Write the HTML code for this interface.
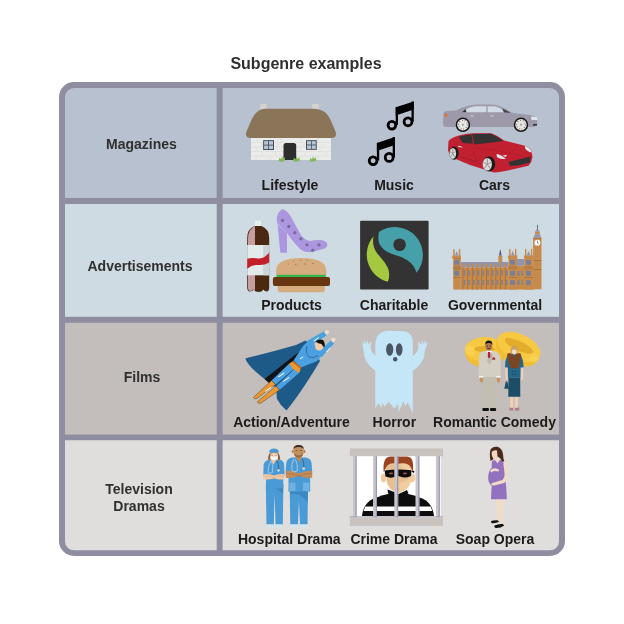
<!DOCTYPE html>
<html><head><meta charset="utf-8">
<style>
html,body{margin:0;padding:0;background:#fff;width:624px;height:624px;overflow:hidden}
svg{display:block;will-change:transform}
text{font-family:"Liberation Sans",sans-serif;font-weight:bold}
.t{fill:#303030;font-size:14px}
.l{fill:#1c1a1a;font-size:14px}
</style></head><body>
<svg width="624" height="624" viewBox="0 0 624 624">
<!-- frame -->
<rect x="59" y="82" width="506" height="474" rx="15" ry="15" fill="#8f8da0"/>
<path d="M65 97 A9 9 0 0 1 74 88 L216.7 88 L216.7 198 L65 198 Z" fill="#b8c1cf"/>
<path d="M222.6 88 L550 88 A9 9 0 0 1 559 97 L559 198 L222.6 198 Z" fill="#b8c1cf"/>
<rect x="65" y="204" width="151.7" height="112.8" fill="#cfdbe3"/>
<rect x="222.6" y="204" width="336.4" height="112.8" fill="#cfdbe3"/>
<rect x="65" y="322.8" width="151.7" height="111.8" fill="#c3bebb"/>
<rect x="222.6" y="322.8" width="336.4" height="111.8" fill="#c3bebb"/>
<path d="M65 440.2 L216.7 440.2 L216.7 550.3 L74 550.3 A9 9 0 0 1 65 541.3 Z" fill="#dfdedc"/>
<path d="M222.6 440.2 L559 440.2 L559 541.3 A9 9 0 0 1 550 550.3 L222.6 550.3 Z" fill="#dfdedc"/>

<text x="306" y="69" text-anchor="middle" class="t" style="font-size:16px">Subgenre examples</text>
<text x="141.4" y="149.2" text-anchor="middle" class="t">Magazines</text>
<text x="140" y="270.6" text-anchor="middle" class="t">Advertisements</text>
<text x="142" y="381.7" text-anchor="middle" class="t">Films</text>
<text x="139" y="494" text-anchor="middle" class="t">Television</text>
<text x="139" y="510.6" text-anchor="middle" class="t">Dramas</text>

<text x="290" y="190" text-anchor="middle" class="l">Lifestyle</text>
<text x="394" y="190" text-anchor="middle" class="l">Music</text>
<text x="494.5" y="190" text-anchor="middle" class="l">Cars</text>
<text x="291.5" y="309.6" text-anchor="middle" class="l">Products</text>
<text x="394" y="309.6" text-anchor="middle" class="l">Charitable</text>
<text x="495" y="309.6" text-anchor="middle" class="l">Governmental</text>
<text x="291.5" y="426.9" text-anchor="middle" class="l">Action/Adventure</text>
<text x="394.3" y="426.9" text-anchor="middle" class="l">Horror</text>
<text x="494.5" y="426.9" text-anchor="middle" class="l">Romantic Comedy</text>
<text x="289.3" y="543.9" text-anchor="middle" class="l">Hospital Drama</text>
<text x="394" y="543.9" text-anchor="middle" class="l">Crime Drama</text>
<text x="495" y="543.9" text-anchor="middle" class="l">Soap Opera</text>

<!-- ILLUSTRATIONS -->
<g id="cottage">
<rect x="260.2" y="103.9" width="6.4" height="5" fill="#d5d2ce"/>
<rect x="312.1" y="103.9" width="6.6" height="5" fill="#d5d2ce"/>
<path d="M267 108.7 L312 108.7 C324 108.7 328 114 331 121 L335.5 131.5 C337 136 335 138 331 138 L251 138 C247 138 245 136 246.5 131.5 L251 121 C254 114 258 108.7 267 108.7 Z" fill="#8b7558"/>
<rect x="251" y="138" width="80" height="22" fill="#ebebea"/>
<g stroke="#d6d6d6" stroke-width="0.5" fill="none">
<path d="M251 142.5H331M251 147H331M251 151.5H331M251 156H331"/>
<path d="M257 138v4.5M270 138v4.5M281 138v4.5M301 138v4.5M318 138v4.5M262 142.5v4.5M278 142.5v4.5M304 142.5v4.5M324 142.5v4.5M256 147v4.5M268 147v4.5M300 147v4.5M320 147v4.5M262 151.5v4.5M276 151.5v4.5M305 151.5v4.5M326 151.5v4.5M256 156v4M270 156v4M302 156v4M318 156v4"/>
</g>
<rect x="263.2" y="140.2" width="10.8" height="9.8" fill="#3f4550"/>
<rect x="264.1" y="141.1" width="4.1" height="3.6" fill="#b4c6d8"/>
<rect x="269" y="141.1" width="4.1" height="3.6" fill="#b4c6d8"/>
<rect x="264.1" y="145.5" width="4.1" height="3.6" fill="#b4c6d8"/>
<rect x="269" y="145.5" width="4.1" height="3.6" fill="#b4c6d8"/>
<rect x="306" y="140.2" width="10.7" height="9.6" fill="#3f4550"/>
<rect x="306.9" y="141.1" width="4.1" height="3.5" fill="#b4c6d8"/>
<rect x="311.7" y="141.1" width="4.1" height="3.5" fill="#b4c6d8"/>
<rect x="306.9" y="145.4" width="4.1" height="3.5" fill="#b4c6d8"/>
<rect x="311.7" y="145.4" width="4.1" height="3.5" fill="#b4c6d8"/>
<path d="M283.5 160 V145.5 Q283.5 143 286 143 H293.7 Q296.2 143 296.2 145.5 V160 Z" fill="#2d2d2d"/>
<g fill="#84b85a">
<path d="M278.5 161 L279.5 157.5 L281 159.5 L282 156 L283 159 L284.8 157 L285 160.5 Q283 162 280 161.8 Z"/>
<path d="M293 161 L294 157.5 L295.5 159.5 L296.5 156 L297.5 159 L299.3 157 L299.8 160.5 Q297.5 162 294.5 161.8 Z"/>
<path d="M309.5 161 L310.5 157.5 L312 159.5 L313 156 L314 159 L315.8 157 L316.3 160.5 Q314 162 311 161.8 Z"/>
</g>
</g>

<g id="music">
<g transform="translate(395.7 107.3)">
<path d="M0 0 L18 -5.8 L18 2.2 L0 8.2 Z" fill="#000"/>
<rect x="0" y="0" width="2.3" height="17.5" fill="#000"/>
<rect x="15.8" y="-5.8" width="2.3" height="20" fill="#000"/>
<circle cx="-3.8" cy="17.9" r="3.85" fill="none" stroke="#000" stroke-width="2.8"/>
<circle cx="12.3" cy="14.5" r="3.95" fill="none" stroke="#000" stroke-width="2.8"/>
</g>
<g transform="translate(376.9 142.9)">
<path d="M0 0 L18 -5.8 L18 2.2 L0 8.2 Z" fill="#000"/>
<rect x="0" y="0" width="2.3" height="17.5" fill="#000"/>
<rect x="15.8" y="-5.8" width="2.3" height="20" fill="#000"/>
<circle cx="-3.8" cy="17.9" r="3.85" fill="none" stroke="#000" stroke-width="2.8"/>
<circle cx="12.3" cy="14.5" r="3.95" fill="none" stroke="#000" stroke-width="2.8"/>
</g>
</g>

<g id="cars">
<!-- sedan -->
<path d="M443.5 113 Q444 111.2 447 111 L456 110.6 Q466 105 477 104.6 L492 104.6 Q501 105 512 112.8 L530 115 Q536 116 537 119 L537.3 123.5 Q537 126.8 533 127 L446 127 Q443 126.8 443 123.5 Z" fill="#9d99a9"/>
<path d="M462 112.3 Q468 106.6 476 106.2 L486.3 106.2 L486.3 112.3 Z" fill="#d2dbe5"/>
<path d="M487.6 106.2 L496 106.4 Q502 108.5 507 112.3 L487.6 112.3 Z" fill="#d2dbe5"/>
<path d="M462 112.3 L465.5 109 L466.5 112.3 Z" fill="#333"/>
<path d="M502 108.5 Q506 110 510.5 112.8 L504 112.6 Z" fill="#444"/>
<rect x="444.5" y="114" width="3" height="2.8" fill="#e8702a"/>
<path d="M531 116.6 L537 117.3 L537.3 120 L531.5 120 Z" fill="#dce6ee"/>
<rect x="533" y="124" width="4" height="1.6" fill="#333"/>
<rect x="470.5" y="115.3" width="3.2" height="1.2" fill="#d8c8c0"/>
<rect x="490.5" y="115.3" width="3.2" height="1.2" fill="#d8c8c0"/>
<circle cx="462.9" cy="124.8" r="7.2" fill="#151515"/>
<circle cx="462.9" cy="124.8" r="5.7" fill="#e8e6e2"/>
<circle cx="462.9" cy="124.8" r="4.4" fill="none" stroke="#444" stroke-width="1.1" stroke-dasharray="0.6 2.16"/><circle cx="462.9" cy="124.8" r="1" fill="#999"/>
<circle cx="521" cy="124.8" r="7.2" fill="#151515"/>
<circle cx="521" cy="124.8" r="5.7" fill="#e8e6e2"/>
<circle cx="521" cy="124.8" r="4.4" fill="none" stroke="#444" stroke-width="1.1" stroke-dasharray="0.6 2.16"/><circle cx="521" cy="124.8" r="1" fill="#999"/>
<!-- red car -->
<path d="M448.5 141 Q452 137.5 459 135.6 Q466 133.6 473 133.2 L491 133.2 Q497 135 504 140.6 L522 145 Q529 146.5 531.5 151 L532.5 157 Q532 162 528.5 165.8 L512 169.5 Q500 172.5 494 172.4 L470 165 L457 159.5 Q449 156 448 150 Z" fill="#c0202f"/>
<path d="M459 136.5 Q465 134.8 471.5 134.5 L473 143.8 L463 143 Q460 140 459 136.5 Z" fill="#333"/>
<path d="M472 134 L491 133.8 Q497 136.5 503.5 141 Q490 142.5 474.5 144.6 Z" fill="#333"/>
<path d="M508.5 162 L530.5 156.5 L530 162.5 Q520 166 510 166 Z" fill="#333"/>
<path d="M496.5 154 Q501 154.5 505.8 158.8 Q500 159.8 497 157 Z" fill="#dde8f0"/>
<path d="M524.8 146 Q530 147.5 532 152.5 Q527 151.8 525 148 Z" fill="#dde8f0"/>
<path d="M458 145.8 Q461 146 463 147.5 L458.5 147 Z" fill="#eee"/>
<path d="M472.7 152.6 Q476.5 156 476.3 161.5 L460 157" fill="none" stroke="#8a1a22" stroke-width="0.5"/>
<path d="M476 148 Q500 150 522 156" fill="none" stroke="#a81c28" stroke-width="0.5"/>
<path d="M502.5 155.5 L507 155 L505.5 157 Z" fill="#eee"/>
<ellipse cx="489" cy="164" rx="6.2" ry="7.6" fill="#1a1a1a"/>
<ellipse cx="487.3" cy="164.3" rx="4.6" ry="6.3" fill="#dcdad8"/>
<path d="M487.3 164.3 L487.3 158.8 M487.3 164.3 L491.3 162.3 M487.3 164.3 L490.5 168.8 M487.3 164.3 L484 168.8 M487.3 164.3 L483.3 162.3" stroke="#8a8a8a" stroke-width="0.9"/>
<ellipse cx="454" cy="153.2" rx="4.6" ry="6.6" fill="#1a1a1a"/>
<ellipse cx="452.8" cy="153.4" rx="3.3" ry="5.4" fill="#dcdad8"/>
<path d="M452.8 153.4 L452.8 148.6 M452.8 153.4 L455.6 151.6 M452.8 153.4 L455 157.5 M452.8 153.4 L450.6 157.5 M452.8 153.4 L450 151.6" stroke="#8a8a8a" stroke-width="0.8"/>
</g>

<g id="products">
<!-- bottle -->
<rect x="254.8" y="220.8" width="6.4" height="5.4" fill="#e6eeee"/>
<path d="M254.5 226 L261.5 226 Q269.2 229 269.2 238 L269.2 287 Q269.2 291.5 266.5 291.5 Q264.5 291.5 263.5 289.5 Q262 292 258.5 292 Q255 292 253.5 289.5 Q252.5 291.5 250 291.5 Q247.2 291.5 247.2 287 L247.2 238 Q247.2 229 254.5 226 Z" fill="#4a2812"/>
<path d="M254.5 226.3 L255 226.3 L255 245 L248 245 L248 238 Q248 230 254.5 226.3 Z" fill="#c4a0a3"/>
<path d="M248 275 L255 275 L255 290.5 Q253.5 290.5 253.2 289 Q252.5 291 250 291 Q248 291 248 287 Z" fill="#c4a0a3"/>
<rect x="247.2" y="245" width="22" height="30.3" fill="#e2eaec"/>
<rect x="263.2" y="245" width="6" height="30.3" fill="#c8d4d6"/>
<path d="M247.2 258.8 Q252 257.5 258 258.5 Q264 259 269.2 252.5 L269.2 262.5 Q264 265.5 258 265 Q252 264.5 247.2 268.8 Z" fill="#c4202a"/>
<!-- shoe -->
<path d="M283 209.1 Q290 213 292 219 L301 235 Q304.5 240 310 241 Q316 239.5 321 240 Q327.5 241 327.4 245 Q327 248 323 249 L311 252.3 Q304 252.5 300 249 Q295 244 289 236 L287.5 233.5 L277 223 Q276 216 279 212 Q281 209.5 283 209.1 Z" fill="#ad96e0"/>
<path d="M277.6 224.5 L287 233 L287 252.7 L280.3 252.7 Z" fill="#ad96e0"/>
<g fill="#7a6a9a">
<circle cx="282.5" cy="220.4" r="1.65"/><circle cx="288.8" cy="226.5" r="1.65"/><circle cx="294.8" cy="232.7" r="1.65"/><circle cx="300.9" cy="238.8" r="1.65"/><circle cx="307" cy="244.8" r="1.65"/><circle cx="318.9" cy="244.8" r="1.65"/><circle cx="312.8" cy="250.2" r="1.65"/>
</g>
<!-- burger -->
<path d="M276.2 275 L276.2 270 Q277 258.1 301.2 258.1 Q325.4 258.1 326.2 270 L326.2 275 Z" fill="#d6ab7d"/>
<rect x="276.4" y="274.8" width="49.5" height="2.4" fill="#35b84a"/>
<path d="M277.7 286 L324.9 286 L324.9 290 Q324.9 292.2 322.5 292.2 L280 292.2 Q277.7 292.2 277.7 290 Z" fill="#d6ab7d"/>
<rect x="272.9" y="277" width="57.1" height="9" rx="2" fill="#683610"/>
<g fill="#a87850">
<circle cx="288.5" cy="264" r="0.6"/><circle cx="293.6" cy="261.2" r="0.6"/><circle cx="300.8" cy="260.4" r="0.6"/><circle cx="306.9" cy="260.4" r="0.6"/><circle cx="295.8" cy="264.5" r="0.7"/><circle cx="305.4" cy="264" r="0.8"/><circle cx="313" cy="263.2" r="0.8"/>
</g>
</g>

<g id="fairtrade">
<rect x="360.1" y="220.8" width="68.5" height="68.6" rx="1" fill="#333333"/>
<path d="M378.9 232 A28 28 0 0 1 416.5 272.8 Q414.5 265 407 260 Q400 256 392 254 Q383 251 379.5 244 Q377.5 238 378.9 232 Z" fill="#45a0a9"/>
<circle cx="399.6" cy="244.8" r="6.3" fill="#333333"/>
<path d="M373.6 236.3 A28 28 0 0 0 387.9 281.8 Q390.5 275 388 268 Q385 262 379 255.5 Q374 250 373.2 244 Q372.8 240 373.6 236.3 Z" fill="#a4c940"/>
</g>

<g id="parliament">
<rect x="460.8" y="262" width="47.7" height="5.5" fill="#9294aa"/>
<rect x="460.8" y="267.5" width="47.7" height="22.1" fill="#c68b4c"/>
<rect x="462.8" y="263.8" width="1.6" height="3.8" fill="#c68b4c"/>
<rect x="467.4" y="263.8" width="1.6" height="3.8" fill="#c68b4c"/>
<rect x="472.0" y="263.8" width="1.6" height="3.8" fill="#c68b4c"/>
<rect x="476.6" y="263.8" width="1.6" height="3.8" fill="#c68b4c"/>
<rect x="481.2" y="263.8" width="1.6" height="3.8" fill="#c68b4c"/>
<rect x="485.8" y="263.8" width="1.6" height="3.8" fill="#c68b4c"/>
<rect x="490.4" y="263.8" width="1.6" height="3.8" fill="#c68b4c"/>
<rect x="495.0" y="263.8" width="1.6" height="3.8" fill="#c68b4c"/>
<rect x="499.6" y="263.8" width="1.6" height="3.8" fill="#c68b4c"/>
<rect x="504.2" y="263.8" width="1.6" height="3.8" fill="#c68b4c"/>
<rect x="462.5" y="267.5" width="0.9" height="22" fill="#a8733a"/>
<rect x="467.2" y="267.5" width="0.9" height="22" fill="#a8733a"/>
<rect x="471.9" y="267.5" width="0.9" height="22" fill="#a8733a"/>
<rect x="476.6" y="267.5" width="0.9" height="22" fill="#a8733a"/>
<rect x="481.3" y="267.5" width="0.9" height="22" fill="#a8733a"/>
<rect x="486.0" y="267.5" width="0.9" height="22" fill="#a8733a"/>
<rect x="490.7" y="267.5" width="0.9" height="22" fill="#a8733a"/>
<rect x="495.4" y="267.5" width="0.9" height="22" fill="#a8733a"/>
<rect x="500.1" y="267.5" width="0.9" height="22" fill="#a8733a"/>
<rect x="504.8" y="267.5" width="0.9" height="22" fill="#a8733a"/>
<rect x="463.8" y="270.4" width="1.4" height="5.2" fill="#7a7e96"/>
<rect x="463.8" y="280" width="1.4" height="5" fill="#7a7e96"/>
<rect x="468.5" y="270.4" width="1.4" height="5.2" fill="#7a7e96"/>
<rect x="468.5" y="280" width="1.4" height="5" fill="#7a7e96"/>
<rect x="473.2" y="270.4" width="1.4" height="5.2" fill="#7a7e96"/>
<rect x="473.2" y="280" width="1.4" height="5" fill="#7a7e96"/>
<rect x="477.9" y="270.4" width="1.4" height="5.2" fill="#7a7e96"/>
<rect x="477.9" y="280" width="1.4" height="5" fill="#7a7e96"/>
<rect x="482.6" y="270.4" width="1.4" height="5.2" fill="#7a7e96"/>
<rect x="482.6" y="280" width="1.4" height="5" fill="#7a7e96"/>
<rect x="487.3" y="270.4" width="1.4" height="5.2" fill="#7a7e96"/>
<rect x="487.3" y="280" width="1.4" height="5" fill="#7a7e96"/>
<rect x="492.0" y="270.4" width="1.4" height="5.2" fill="#7a7e96"/>
<rect x="492.0" y="280" width="1.4" height="5" fill="#7a7e96"/>
<rect x="496.7" y="270.4" width="1.4" height="5.2" fill="#7a7e96"/>
<rect x="496.7" y="280" width="1.4" height="5" fill="#7a7e96"/>
<rect x="501.4" y="270.4" width="1.4" height="5.2" fill="#7a7e96"/>
<rect x="501.4" y="280" width="1.4" height="5" fill="#7a7e96"/>
<rect x="506.1" y="270.4" width="1.4" height="5.2" fill="#7a7e96"/>
<rect x="506.1" y="280" width="1.4" height="5" fill="#7a7e96"/>
<rect x="453.2" y="255.8" width="7.6" height="33.8" fill="#c68b4c"/>
<rect x="452.2" y="255.8" width="8.8" height="2.6" fill="#c68b4c"/>
<rect x="453.2" y="249.2" width="1.5" height="7" fill="#c68b4c"/>
<rect x="458.8" y="249.2" width="1.5" height="7" fill="#c68b4c"/>
<path d="M455 255.8 L456.7 250.8 L458.4 255.8 Z" fill="#9294aa"/>
<rect x="453.2" y="258.3" width="7.6" height="0.6" fill="#a8733a"/>
<rect x="454.2" y="260" width="5" height="4.6" fill="#7a7e96"/>
<rect x="453.2" y="265.8" width="7.6" height="4.2" fill="#a8733a" opacity="0.6"/>
<rect x="454.2" y="270.8" width="5" height="5" fill="#7a7e96"/>
<rect x="453.2" y="277" width="7.6" height="0.8" fill="#a8733a"/>
<rect x="498.4" y="255.6" width="3.9" height="7" fill="#c68b4c"/>
<path d="M499.2 255.6 L499.6 252 L500.3 249 L501 252 L501.5 255.6 Z" fill="#55566a"/>
<rect x="508.5" y="265.7" width="25" height="23.9" fill="#c68b4c"/>
<rect x="516.9" y="259" width="7.6" height="6.7" fill="#9294aa"/>
<rect x="508.5" y="255.6" width="8.5" height="34" fill="#c68b4c"/>
<rect x="508.1" y="255.6" width="9.3" height="2.8" fill="#c68b4c"/>
<rect x="509.1" y="248.9" width="1.4" height="7" fill="#c68b4c"/>
<rect x="515.0" y="248.9" width="1.4" height="7" fill="#c68b4c"/>
<path d="M510.9 255.6 L512.75 250.8 L514.6 255.6 Z" fill="#9294aa"/>
<rect x="510.0" y="260" width="5" height="4.6" fill="#7a7e96"/>
<rect x="510.0" y="270.8" width="5" height="5" fill="#7a7e96"/>
<rect x="510.0" y="280.3" width="5" height="4.5" fill="#7a7e96"/>
<rect x="508.5" y="266" width="8.5" height="3.5" fill="#a8733a" opacity="0.5"/>
<rect x="508.5" y="277" width="8.5" height="0.8" fill="#a8733a"/>
<rect x="524.4" y="255.6" width="8.5" height="34" fill="#c68b4c"/>
<rect x="524.0" y="255.6" width="9.3" height="2.8" fill="#c68b4c"/>
<rect x="525.0" y="248.9" width="1.4" height="7" fill="#c68b4c"/>
<rect x="530.9" y="248.9" width="1.4" height="7" fill="#c68b4c"/>
<path d="M526.8 255.6 L528.65 250.8 L530.5 255.6 Z" fill="#9294aa"/>
<rect x="525.9" y="260" width="5" height="4.6" fill="#7a7e96"/>
<rect x="525.9" y="270.8" width="5" height="5" fill="#7a7e96"/>
<rect x="525.9" y="280.3" width="5" height="4.5" fill="#7a7e96"/>
<rect x="524.4" y="266" width="8.5" height="3.5" fill="#a8733a" opacity="0.5"/>
<rect x="524.4" y="277" width="8.5" height="0.8" fill="#a8733a"/>
<rect x="517.5" y="270.8" width="2" height="5" fill="#7a7e96"/>
<rect x="521" y="270.8" width="2" height="5" fill="#7a7e96" opacity="0.6"/>
<rect x="517.5" y="280.3" width="2" height="4.5" fill="#7a7e96"/>
<rect x="521" y="280.3" width="2" height="4.5" fill="#7a7e96" opacity="0.6"/>
<rect x="533.1" y="237.7" width="8.4" height="51.6" fill="#c68b4c"/>
<rect x="533.1" y="237.7" width="8.4" height="1" fill="#a8733a"/>
<path d="M533.5 237.7 L535 234.3 L539.8 234.3 L541.2 237.7 Z" fill="#9294aa"/>
<rect x="535" y="231.5" width="4.8" height="2.8" fill="#c68b4c"/>
<path d="M535 231.5 L537.4 228.5 L539.8 231.5 Z" fill="#9294aa"/>
<rect x="537" y="224.8" width="0.8" height="4.5" fill="#55566a"/>
<circle cx="537.4" cy="242.7" r="2.9" fill="#fff"/>
<path d="M537.4 242.7 L537.4 240.6 M537.4 242.7 L538.8 243.4" stroke="#444" stroke-width="0.7"/>
<rect x="533.1" y="260" width="8.4" height="0.9" fill="#a8733a"/>
<rect x="533.1" y="269" width="8.4" height="0.9" fill="#a8733a"/>
</g>

<g id="hero">
<path d="M245.2 358.5 Q270 352.5 296 345 L305.5 340.5 L312 346 L320 361 Q313 373 305 385 Q295 400 286.5 410.6 Q280 405 277 399 Q276 393 277.5 389 L270 383 Q262 377.5 255.5 371.5 Q248 365 245.2 358.5 Z" fill="#1e5a88"/>
<path d="M264.5 379 Q279 367.5 293 356.5 L302.5 349.5 L304.5 352.5 Q290 365 269.5 383.5 Z" fill="#101418"/>
<path d="M306.5 341.3 L324 331.3 L326.5 335.5 L308.2 347.2 Z" fill="#4aa0e0"/>
<path d="M318.2 352.2 L330.7 340.5 L334 343.8 L321.5 357.2 Z" fill="#4aa0e0"/>
<path d="M293.5 360.5 L303 346 Q305.5 342.5 309 342 L314 344 L319 349.5 L321.5 354.5 Q320.5 359 316 361.5 L301 367.5 Z" fill="#4aa0e0"/>
<circle cx="326.9" cy="332.3" r="2.1" fill="#f6dcc4"/>
<circle cx="333.4" cy="339.8" r="2.1" fill="#f6dcc4"/>
<ellipse cx="319.2" cy="346" rx="4.2" ry="4.6" fill="#f3cba6"/>
<path d="M315.5 341.5 Q319 338.5 323 340 Q325.5 343 324.5 347.5 Q322.5 346 321.5 344 Q318 343.5 315.5 341.5 Z" fill="#111"/>
<path d="M307 346 Q305 353 309 357 Q313 359 318 355.5" fill="none" stroke="#2a3a50" stroke-width="0.5"/>
<path d="M289 363.8 L293.2 360.9 L300.7 367.2 L299.8 372.2 L296.5 373.4 L289 368.8 Z" fill="#ec9a30"/>
<path d="M293.2 360.9 L301.2 367.2 L300.4 368.6 L292.6 362.2 Z" fill="#c8621a"/>
<path d="M289 363.8 L293.5 369.5 L275.5 384.5 L271.5 380.5 Z" fill="#4aa0e0"/>
<path d="M293.5 369.5 L299 373 L279.5 390 L276 386 Z" fill="#4aa0e0"/>
<path d="M293.5 369.5 L276 386" stroke="#1a2a40" stroke-width="0.5"/>
<path d="M271.5 380.5 L275.5 384.5 L257 398.5 Q254 399.5 253.3 397.5 Z" fill="#ec9a30" stroke="#2a2018" stroke-width="0.4"/>
<path d="M276 386 L279.5 390 L261 403 Q258 404 257.2 402 Z" fill="#ec9a30" stroke="#2a2018" stroke-width="0.4"/>
<g fill="#fff">
<path d="M278 376.5 L284 372.5 L284.6 373.3 L278.6 377.3 Z"/>
<path d="M283 381 L289 377 L289.5 377.8 L283.5 381.8 Z"/>
<path d="M313.5 341 L318.5 337 L319 337.8 L314 341.8 Z"/>
<path d="M326 352 L330 347.5 L330.6 348.1 L326.6 352.6 Z"/>
<path d="M265 391 L271 387 L271.5 387.8 L265.5 391.8 Z"/>
<path d="M299.8 358.6 L303 356.6 L303.4 357.3 L300.2 359.3 Z"/>
</g>
</g>

<g id="ghost">
<path d="M376 371 Q367 365 364.5 357 L363.5 350 L362 341 L364.2 344.5 L364.3 339.5 L366 344 L367.5 340 L368 344.5 L371.5 341.5 L370.5 348 Q371.5 353 376 356 Z" fill="#c4e6f6"/>
<path d="M412.5 371 Q421.5 365 424 357 L425 350 L428.2 341.5 L425.5 344.5 L425.5 339.5 L423.5 344 L422 340 L421.3 344.5 L418 341.5 L418.5 348 Q417 353 412.5 356 Z" fill="#c4e6f6"/>
<path d="M375.3 346 C375.3 336.5 379.5 331 388.5 330.8 L403 331.2 C409.5 331.8 412.8 335.5 412.8 342 L412.8 413.1 L407.5 402.3 L405.5 406.2 L403.5 401.2 L398.5 411.9 L398.1 403.8 L394.6 408.5 L388.5 401.9 L384.6 406.5 L381.9 402.7 L381.5 408.5 L378.5 403.1 L375.3 408.1 Z" fill="#c4e6f6"/>
<ellipse cx="389.7" cy="349.5" rx="3.6" ry="6.3" fill="#4b5563"/>
<ellipse cx="399.2" cy="349.5" rx="3.3" ry="6.3" fill="#4b5563"/>
<circle cx="395.2" cy="359.3" r="2.2" fill="#4b5563"/>
</g>

<g id="romcom">
<!-- left ring -->
<ellipse cx="485" cy="352.3" rx="20" ry="15.2" fill="#f2bd33"/>
<ellipse cx="485" cy="349.5" rx="20" ry="12.3" fill="#f7c942"/>
<ellipse cx="484.5" cy="349" rx="10.5" ry="3" fill="#e2ad2a"/>
<path d="M465.2 349 Q465.5 345 474.5 346.5 Q474 352 474 356 Q466 355 465.2 351 Z" fill="#f9d050"/>
<!-- right ring -->
<g transform="rotate(25 518 349)">
<ellipse cx="518" cy="350" rx="23" ry="15" fill="#f2bd33"/>
<ellipse cx="518" cy="346.8" rx="23" ry="12.8" fill="#f7c942"/>
<ellipse cx="517.5" cy="345.8" rx="15.5" ry="4.8" fill="#e2ad2a"/>
<path d="M533 346.5 Q541 346.5 541 349.5 Q540.5 355 532.5 355 Q532 350 533 346.5 Z" fill="#f9d050"/>
</g>
<!-- man -->
<path d="M482.3 377 L497.1 377 L497 407.6 L490 407.6 L489.8 384 L489 407.6 L482.5 407.6 Z" fill="#c2bfb2"/>
<rect x="482.3" y="408" width="6.7" height="3" rx="1.2" fill="#111"/>
<rect x="490" y="408" width="6.2" height="3" rx="1.2" fill="#111"/>
<path d="M480.5 352.5 Q483 351 486.5 350.8 L490.5 350.8 Q494.5 351 497.5 352.5 Q500 354 500.5 358 L500.7 377 L478.7 377 L478.9 358 Q479 354 480.5 352.5 Z" fill="#d3d0c3"/>
<path d="M486.3 351 L489 357 L487 360.5 L490 365 L488.5 352 Z" fill="#b9b6a9"/>
<path d="M491 351 L493 357 L491.5 361 L489.5 365 Z" fill="#b9b6a9"/>
<path d="M492.3 358.2 L493.8 356.9 L495.2 358.2 L495.2 359.4 L492.3 359.4 Z" fill="#b02030"/><rect x="492.3" y="359" width="2.9" height="0.5" fill="#555"/>
<rect x="479" y="376" width="4.3" height="1.7" fill="#f4f4f4"/>
<rect x="496.3" y="376" width="4.3" height="1.7" fill="#f4f4f4"/>
<path d="M479.7 377.7 L483.3 377.7 L483 382 Q481.5 383 480.2 382 Z" fill="#c8925e"/>
<path d="M496.6 377.7 L500.2 377.7 L499.8 382 Q498.3 383 497 382 Z" fill="#c8925e"/>
<rect x="486.7" y="350.4" width="4.9" height="2.4" fill="#f4f4f4"/>
<path d="M488 352 L490.2 352 L490.4 357 L489.1 358.5 L487.8 357 Z" fill="#b02030"/>
<ellipse cx="488.8" cy="346" rx="3.5" ry="4.8" fill="#b07a50"/>
<path d="M485.2 345 Q485 340.6 488.8 340.6 Q492.6 340.6 492.4 345 Q491.5 342.8 488.8 342.9 Q486.1 342.8 485.2 345 Z" fill="#151515"/>
<rect x="486.6" y="345.6" width="1.2" height="0.9" fill="#222"/>
<rect x="489.8" y="345.6" width="1.2" height="0.9" fill="#222"/>
<path d="M487.2 348.3 Q488.8 347.6 490.4 348.3 L490.2 349 Q488.8 348.5 487.4 349 Z" fill="#222"/>
<!-- woman -->
<path d="M509.4 407.5 L513 407.5 L513.2 410.5 L509.6 410.5 Z" fill="#b07888"/>
<path d="M515 407.5 L519 407.5 L519.3 410.5 L515.2 410.5 Z" fill="#b07888"/>
<rect x="510.2" y="396.5" width="3" height="11.2" fill="#f0d0b5"/>
<rect x="514.8" y="396.5" width="3" height="11.2" fill="#f0d0b5"/>
<path d="M505.3 368 L507.9 368 L507.6 380 L505.5 380 Z" fill="#f0d0b5"/>
<path d="M520.7 368 L523.3 368 L523 380 L521 380 Z" fill="#f0d0b5"/>
<path d="M508.4 377.5 L520.2 377.5 L520.3 396.7 L508.3 396.7 Z" fill="#1c4e68"/>
<path d="M507.5 355 Q514 353.5 521 355 Q523.5 360 523.6 367.3 L520.6 367.5 L520.4 377.8 L508 377.8 L507.8 367.5 L505 367.3 Q505 360 507.5 355 Z" fill="#25678a"/>
<path d="M507.4 353.5 Q509.5 352.5 512.5 353.2 L514 357 L515.5 353.2 Q518.5 352.5 520.8 353.5 Q521.5 361 518.3 368 L514 368.6 L510.8 368 Q506.5 361 507.4 353.5 Z" fill="#7a4726"/>
<path d="M512.8 353.5 L515.2 353.5 L514 357.5 Z" fill="#25678a"/>
<g fill="#163848"><circle cx="512.5" cy="371.3" r="0.6"/><circle cx="515.4" cy="371.3" r="0.6"/><circle cx="512.5" cy="374.25" r="0.6"/><circle cx="515.4" cy="374.25" r="0.6"/></g>
<path d="M504.3 388.8 L505.6 382.5 Q506.5 380 507.6 382.5 L509 388.8 Z" fill="#1c4e68"/>
<path d="M510.6 354 Q509.8 346 514.2 345.8 Q518.6 346 517.9 354 L516.5 354 L516.6 350 Q514.2 348.5 511.9 350 L511.9 354 Z" fill="#c9a06a"/>
<ellipse cx="514.2" cy="351.6" rx="2.3" ry="3" fill="#f0dcc8"/>
<path d="M511.7 350.3 Q512 347 514.3 347 Q516.8 347 516.9 350.3 Q514.3 348.6 511.7 350.3 Z" fill="#c9a06a"/>
</g>

<g id="doctors">
<!-- woman doctor -->
<path d="M265.8 484 L283.4 484 L282.8 524.5 L275.6 524.5 L274.6 494 L273.8 524.5 L266.5 524.5 Z" fill="#4a9ad5"/>
<path d="M266 484 L283.2 484 L283 494 Q276 486 266 487 Z" fill="#3b87c2"/>
<path d="M268 460 L281 460 Q283.8 461 284.2 465 L284.6 476 L283.2 476 L283.2 488.5 L266 488.5 L266 476 L263.3 476 L263.6 465 Q264.3 461 268 460 Z" fill="#4a9ad5"/>
<path d="M270.6 459.7 L276.4 459.7 L273.5 464.6 Z" fill="#efc6a6"/>
<path d="M263.2 474.2 Q268 473.5 274 475.5 Q280 473.5 284.4 474.2 L284.4 479.2 Q279 480 274 478.5 Q268 480 263.2 479.2 Z" fill="#efc6a6"/>
<path d="M264 476.2 Q270 475.5 276 478.5 M284 476.2 Q278 475.5 272 478.5" stroke="#d9a988" stroke-width="0.45" fill="none"/>
<rect x="266.2" y="524.4" width="7.5" height="3.4" rx="1" fill="#d4e6ec"/>
<rect x="275.2" y="524.4" width="7.5" height="3.4" rx="1" fill="#d4e6ec"/>
<path d="M268 459.8 Q267.8 452 274.1 451.5 Q280.4 452 280.2 459.8 Z" fill="#8a5a3a"/>
<path d="M270.3 455 Q270.3 452.5 274.1 452.5 Q278 452.5 278 455 L278 459 Q274 461 270.3 459 Z" fill="#f0d0b4"/>
<path d="M270.3 456.6 L278 456.6 L277.6 459.2 Q274 461 270.7 459.2 Z" fill="#f4f4f4"/>
<rect x="271.4" y="454.8" width="1.3" height="0.7" fill="#6a7080"/>
<rect x="275.5" y="454.8" width="1.3" height="0.7" fill="#6a7080"/>
<path d="M269 452.5 Q269.3 448.5 274 448.5 Q278.7 448.5 279 452.5 Z" fill="#4a9ad5"/>
<path d="M271 461 Q267.5 466 268 472.5 Q270 474 272.5 472.5 Q273.5 466 271.5 461.5" stroke="#d8e0e4" stroke-width="0.6" fill="none"/>
<path d="M277 461 Q279 465 278.6 469.2" stroke="#3a4450" stroke-width="0.6" fill="none"/>
<circle cx="278.5" cy="470.4" r="1.2" fill="#d8e0e4"/>
<!-- man doctor -->
<path d="M289.7 491 L308 491 L307.5 524.5 L300 524.5 L298.9 500 L298 524.5 L290.3 524.5 Z" fill="#4a9ad5"/>
<path d="M290 491 L307.8 491 L307.6 502 Q300 492 290 494 Z" fill="#3b87c2"/>
<path d="M292 457.6 L306 457.6 Q310.8 458.5 311.6 463 L312.2 473 L310 473 L310.2 491.4 L288.4 491.4 L288.6 473 L285.6 473 L286.2 463 Q287 458.5 292 457.6 Z" fill="#4a9ad5"/>
<rect x="289.2" y="482.6" width="6.3" height="8.5" fill="#6cb2e2"/>
<rect x="303" y="482.6" width="6.4" height="8.5" fill="#6cb2e2"/>
<path d="M296 457.5 L302.2 457.5 L299.1 462 Z" fill="#c28c58"/>
<path d="M285.8 471 Q292 470 299 473.5 Q306 470 312.2 471 L312.2 477.8 Q306 478.5 299 476 Q292 478.5 285.8 477.8 Z" fill="#c28c58"/>
<path d="M286.5 473.5 Q293 473 301 476.5 M311.5 473.5 Q305 473 297 476.5" stroke="#a06e44" stroke-width="0.5" fill="none"/>
<rect x="290.5" y="524.4" width="7.5" height="3.4" rx="1" fill="#d4e6ec"/>
<rect x="299.8" y="524.4" width="7.5" height="3.4" rx="1" fill="#d4e6ec"/>
<ellipse cx="292.8" cy="451.5" rx="1.1" ry="1.8" fill="#b98252"/>
<ellipse cx="304.4" cy="451.5" rx="1.1" ry="1.8" fill="#b98252"/>
<path d="M293.6 450 Q293.6 445.3 298.6 445.3 Q303.6 445.3 303.6 450 L303.4 454 Q302.5 457.6 298.6 458 Q294.7 457.6 293.8 454 Z" fill="#c49060"/>
<path d="M293.4 449.5 Q293.2 445 298.6 445 Q304 445 303.8 449.5 Q303 446.8 298.6 446.9 Q294.2 446.8 293.4 449.5 Z" fill="#3a2a20"/>
<path d="M294 453 Q295 457.8 298.6 458 Q302.2 457.8 303.2 453 Q301 455.5 298.6 455.5 Q296.2 455.5 294 453 Z" fill="#9a6a40"/>
<rect x="295.6" y="450.3" width="1.3" height="0.7" fill="#3a2a20"/>
<rect x="300.3" y="450.3" width="1.3" height="0.7" fill="#3a2a20"/>
<path d="M293.8 459 Q290.8 464 292 471 Q294.5 472.5 297.3 471 Q298 465 295.5 459.5" stroke="#d8e0e4" stroke-width="0.65" fill="none"/>
<path d="M302.2 458.5 Q304.5 463 303.8 467.5" stroke="#3a4450" stroke-width="0.65" fill="none"/>
<circle cx="303.7" cy="468.5" r="1.3" fill="#d8e0e4"/>
</g>

<g id="crime">
<rect x="352.7" y="456" width="88" height="61.6" fill="#ffffff"/>
<!-- man -->
<path d="M362 516 Q363 506 370 500.5 Q377 496.5 388 494 L398 494 L408 494 Q419 496.5 426 500.5 Q433 506 434 516 Z" fill="#0d0d0d"/>
<path d="M365.3 506.4 L430.7 506.4 L432.3 511.1 L363.6 511.1 Z" fill="#ffffff"/>
<ellipse cx="383.5" cy="478" rx="2.6" ry="4.6" fill="#f0cc9e"/>
<ellipse cx="412.5" cy="478" rx="2.5" ry="4.4" fill="#f0cc9e"/>
<path d="M386 468 Q386 462 398.5 462 Q411.5 462 411.5 468 L411.2 480 Q410 487 404 490.5 L400 492.6 Q398.5 493.2 397 492.6 L393 490.5 Q387 487 386.5 480 Z" fill="#e8c090"/>
<path d="M398.5 462 Q411.5 462 411.5 468 L411.2 480 Q410 487 404 490.5 L400 492.6 L398.8 484 Q404 482 410 478 Z" fill="#f0cc9e"/>
<path d="M383.7 472 Q383 465 384.5 461 Q386 457 390 456.6 L407 456.6 Q411.5 457 412.5 461 Q413.5 465 413 472 L411 468 Q410 464.5 405.5 463.5 Q401 462.8 398.5 463.8 Q395 462.8 391 463.5 Q387 464.5 386 468 Z" fill="#9a4422"/>
<path d="M384.5 470.5 Q398 468.5 411.4 470.2 L411 476 Q405 478.8 400 476.5 L398 476 L396 476.5 Q391 478.8 385.5 476.5 Z" fill="#0d0d0d"/>
<path d="M411 471.5 L414.5 470.5 L414 473 Z" fill="#0d0d0d"/>
<ellipse cx="391" cy="473.4" rx="2.1" ry="0.9" fill="#9b5a48"/>
<ellipse cx="405" cy="473.4" rx="2.1" ry="0.9" fill="#9b5a48"/>
<path d="M387.5 489.5 L393 491.5 L398.5 494 L404 491.5 L407 490 L408.5 493.5 Q398 499 388 493.5 Z" fill="#0d0d0d"/>
<!-- bars -->
<g>
<rect x="352.7" y="456" width="3.9" height="61.5" fill="#c9c5cb"/><rect x="355.4" y="456" width="1.2" height="61.5" fill="#9a98b0"/>
<rect x="373.1" y="456" width="3.9" height="61.5" fill="#c9c5cb"/><rect x="375.8" y="456" width="1.2" height="61.5" fill="#9a98b0"/>
<rect x="394.3" y="456" width="3.9" height="61.5" fill="#c9c5cb"/><rect x="397" y="456" width="1.2" height="61.5" fill="#9a98b0"/>
<rect x="415.5" y="456" width="3.9" height="61.5" fill="#c9c5cb"/><rect x="418.2" y="456" width="1.2" height="61.5" fill="#9a98b0"/>
<rect x="435.9" y="456" width="3.9" height="61.5" fill="#c9c5cb"/><rect x="438.6" y="456" width="1.2" height="61.5" fill="#9a98b0"/>
</g>
<rect x="349.9" y="516.4" width="93.1" height="1" fill="#9a98b0"/>
<rect x="349.9" y="448.4" width="93.1" height="7.8" fill="#c8c3bf"/>
<rect x="349.9" y="517.4" width="93.1" height="8.6" fill="#c8c3bf"/>
</g>

<g id="pregnant">
<path d="M496 499 L500.3 499 L499.2 521 L497 521 Z" fill="#f2dcc6"/>
<path d="M500.5 499 L504.8 499 L502.6 525 L500.2 525 Z" fill="#f2dcc6"/>
<path d="M491.2 521 Q494 520 497.5 520.3 L499.2 521.8 Q496 523.5 492 523.2 Q490.5 522.5 491.2 521 Z" fill="#111"/>
<path d="M494.5 525.5 Q498.5 523.5 502.8 524 L504.2 525.5 Q500 528.5 495.5 528 Q493.8 527 494.5 525.5 Z" fill="#111"/>
<path d="M492 461 Q495 459.5 497.5 461.5 L500.5 459.6 Q503.5 459.5 504.5 462 L504.8 476 Q506.5 486 506.8 499.2 L491 499.3 Q491.3 490 491.8 486 Q487.8 483 488.2 476.5 Q488.6 470.5 491.8 467.5 Q491.5 464 492 461 Z" fill="#9272bf"/>
<path d="M494.5 459 L500.3 459 L497.5 463.5 Z" fill="#f2dcc6"/>
<path d="M503.3 459.6 Q506.5 460 507 464 L507.8 475.5 Q508 480 504 483 L494 485.5 Q491.5 485.5 491.2 484 Q492 482.8 494 482.6 L502.5 480 Q505 477.5 504.8 474 L503.5 465 Z" fill="#f2dcc6"/>
<path d="M490.2 470.5 Q492 468 495.5 468.2 L499 469.5 L498.6 471.5 L494.5 471 Q492 471.5 491 472.5 Z" fill="#f2dcc6"/>
<path d="M490.5 461 Q489 453 490.8 449 Q493.5 446 497.5 446.8 Q502 448 503 454 L503.5 459 Q505 461.5 503.5 461.5 Q501 461 500.5 458.5 L497.5 456.5 Z" fill="#4a2a1a"/>
<path d="M491.6 452 Q493.5 449.6 497 450.5 L497.5 456.5 Q496 459.6 493.5 459 Q491.3 456 491.6 452 Z" fill="#f0d8c0"/>
</g>

</svg>
</body></html>
